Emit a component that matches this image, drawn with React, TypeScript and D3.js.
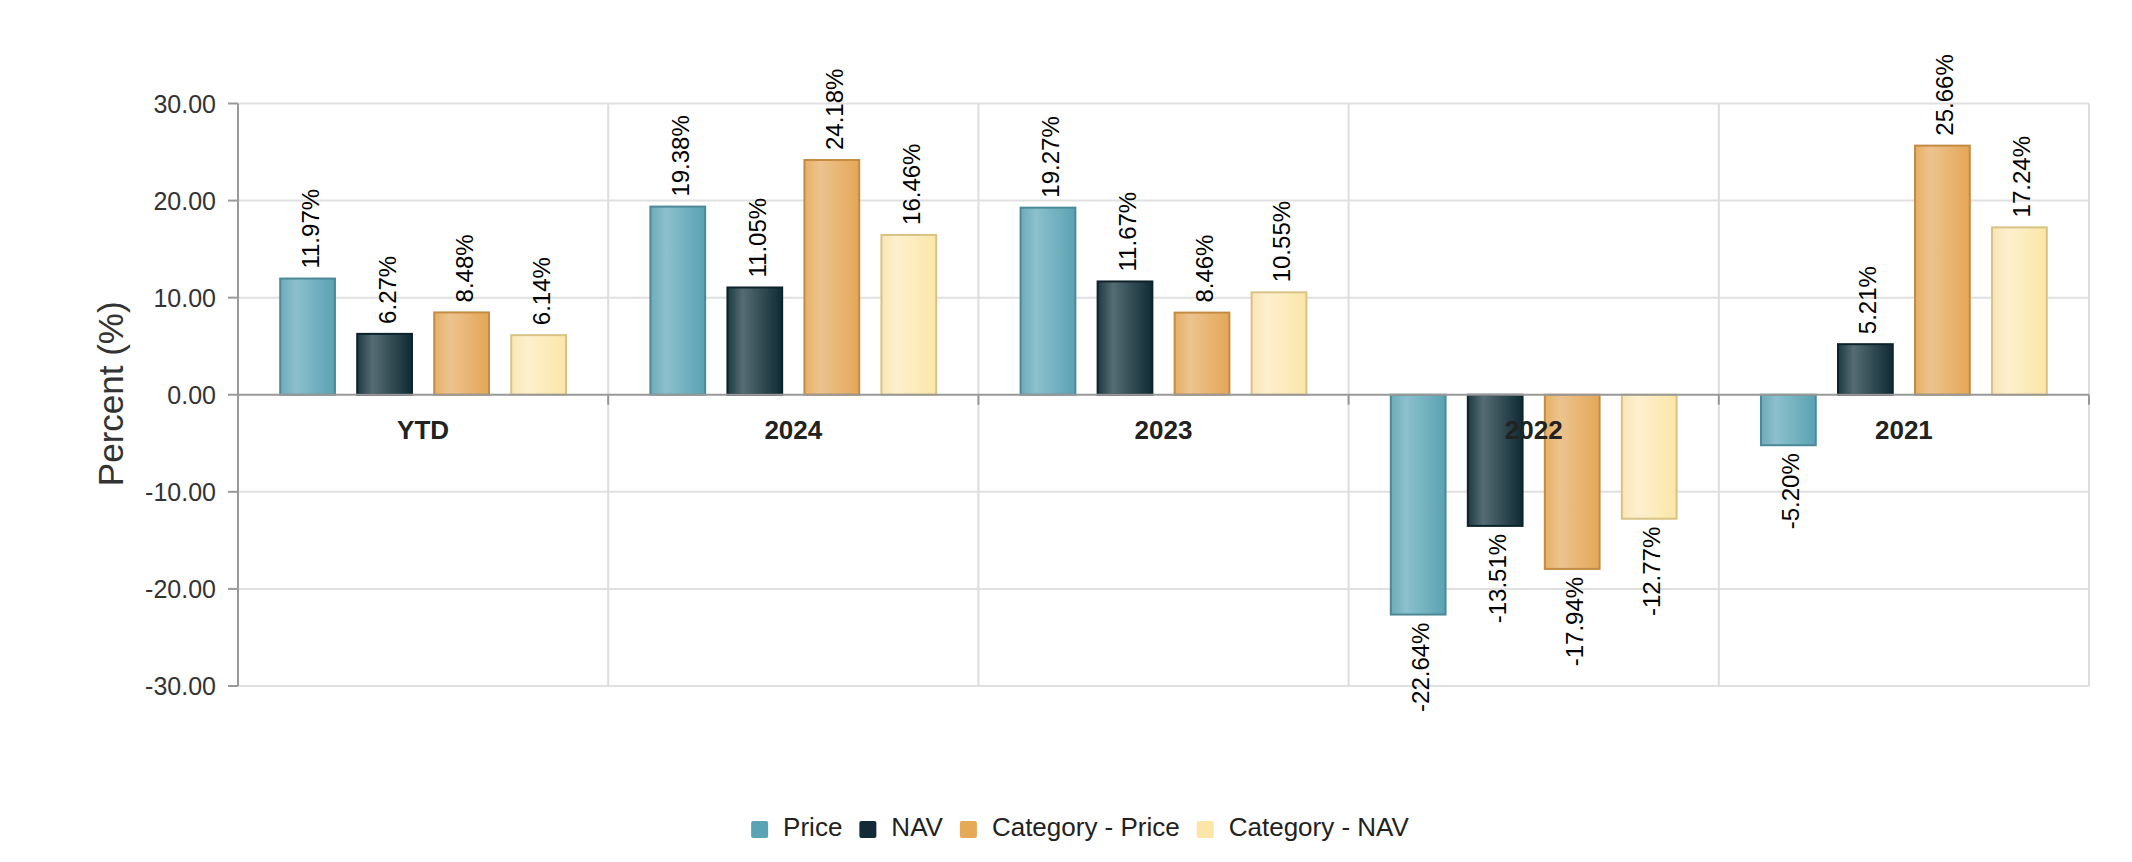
import React, { useEffect, useRef } from 'react';
import * as d3 from 'd3';

const categories = ['YTD', '2024', '2023', '2022', '2021'];
const seriesNames = ['Price', 'NAV', 'Category - Price', 'Category - NAV'];
const priceValues = [11.97, 19.38, 19.27, -22.64, -5.2];
const navValues = [6.27, 11.05, 11.67, -13.51, 5.21];
const catPriceValues = [8.48, 24.18, 8.46, -17.94, 25.66];
const catNavValues = [6.14, 16.46, 10.55, -12.77, 17.24];
const yTicks = [-30, -20, -10, 0, 10, 20, 30];

// gradient stops per series: left edge, highlight, right edge, border, legend swatch
const seriesColors = [
  { a: '#6eabba', b: '#8cc0cc', c: '#5aa2b3', stroke: '#4b8999', swatch: '#5aa3b4' },
  { a: '#1f3a42', b: '#556c73', c: '#0f2a33', stroke: '#0d232b', swatch: '#122b36' },
  { a: '#e6b066', b: '#ecc38e', c: '#e4a757', stroke: '#c38b43', swatch: '#e5a957' },
  { a: '#fae6b5', b: '#fdf0cf', c: '#fbe6a7', stroke: '#d8c385', swatch: '#fbe6a8' },
];

const FONT = '"Liberation Sans", Arial, Helvetica, sans-serif';

// plain hyphen for negatives, like the original
const fmt = (v: number) => v.toFixed(2);

const App: React.FC = () => {
  const svgRef = useRef<SVGSVGElement>(null);

  useEffect(() => {
    if (!svgRef.current) return;
    const svg = d3.select(svgRef.current);
    svg.selectAll('*').remove();

    const left = 238;
    const right = 2089;
    const top = 103.5;
    const bottom = 686;

    const allSeries = [priceValues, navValues, catPriceValues, catNavValues];

    const y = d3.scaleLinear().domain([-30, 30]).range([bottom, top]);
    const x0 = d3.scaleBand<string>().domain(categories).range([left, right]);
    const x1 = d3.scaleBand<string>()
      .domain(seriesNames)
      .range([0, x0.bandwidth()])
      .paddingInner(0.263)
      .paddingOuter(0.535);

    const defs = svg.append('defs');
    seriesColors.forEach((c, i) => {
      const g = defs.append('linearGradient')
        .attr('id', `grad${i}`)
        .attr('x1', '0').attr('x2', '1').attr('y1', '0').attr('y2', '0');
      g.append('stop').attr('offset', '0').attr('stop-color', c.a);
      g.append('stop').attr('offset', '0.28').attr('stop-color', c.b);
      g.append('stop').attr('offset', '1').attr('stop-color', c.c);
    });

    // horizontal grid
    svg.append('g')
      .selectAll('line')
      .data(yTicks.filter(t => t !== 0))
      .enter().append('line')
      .attr('x1', left).attr('x2', right)
      .attr('y1', d => y(d)).attr('y2', d => y(d))
      .attr('stroke', '#e0e0e0').attr('stroke-width', 2);

    // vertical category separators
    const seps = categories.map(c => (x0(c) as number) + x0.bandwidth());
    svg.append('g')
      .selectAll('line')
      .data(seps)
      .enter().append('line')
      .attr('x1', d => d).attr('x2', d => d)
      .attr('y1', top).attr('y2', bottom)
      .attr('stroke', '#dddddd').attr('stroke-width', 2);

    // y axis line + ticks
    svg.append('line')
      .attr('x1', left).attr('x2', left).attr('y1', top).attr('y2', bottom)
      .attr('stroke', '#999').attr('stroke-width', 2);
    const yt = svg.append('g');
    yt.selectAll('line')
      .data(yTicks)
      .enter().append('line')
      .attr('x1', left - 10).attr('x2', left)
      .attr('y1', d => y(d)).attr('y2', d => y(d))
      .attr('stroke', '#999').attr('stroke-width', 2);
    yt.selectAll('text')
      .data(yTicks)
      .enter().append('text')
      .attr('x', 216)
      .attr('y', d => y(d) + 9)
      .attr('text-anchor', 'end')
      .attr('font-family', FONT)
      .attr('font-size', 25)
      .attr('fill', '#333')
      .text(d => fmt(d));

    // y title
    svg.append('text')
      .attr('transform', `translate(123,${(top + bottom) / 2 - 1}) rotate(-90)`)
      .attr('text-anchor', 'middle')
      .attr('font-family', FONT)
      .attr('font-size', 35)
      .attr('fill', '#333')
      .text('Percent (%)');

    // bars
    allSeries.forEach((vals, si) => {
      const c = seriesColors[si];
      const g = svg.append('g');
      g.selectAll('rect')
        .data(vals)
        .enter().append('rect')
        .attr('x', (d, i) => (x0(categories[i]) as number) + (x1(seriesNames[si]) as number) + 1)
        .attr('width', x1.bandwidth() - 2)
        .attr('y', d => Math.min(y(d), y(0)))
        .attr('height', d => Math.abs(y(d) - y(0)))
        .attr('fill', `url(#grad${si})`)
        .attr('stroke', c.stroke)
        .attr('stroke-width', 2);
    });

    // zero line + x ticks
    svg.append('line')
      .attr('x1', left).attr('x2', right).attr('y1', y(0)).attr('y2', y(0))
      .attr('stroke', '#999').attr('stroke-width', 2);
    svg.append('g')
      .selectAll('line')
      .data(seps)
      .enter().append('line')
      .attr('x1', d => d).attr('x2', d => d)
      .attr('y1', y(0)).attr('y2', y(0) + 10)
      .attr('stroke', '#999').attr('stroke-width', 2);

    // data labels
    allSeries.forEach((vals, si) => {
      svg.append('g')
        .selectAll('text')
        .data(vals)
        .enter().append('text')
        .attr('transform', (d, i) => {
          const cx = (x0(categories[i]) as number) + (x1(seriesNames[si]) as number) + x1.bandwidth() / 2 + 11;
          const ty = d >= 0 ? y(d) - 10 : y(d) + 8;
          return `translate(${cx},${ty}) rotate(-90)`;
        })
        .attr('text-anchor', d => (d >= 0 ? 'start' : 'end'))
        .attr('font-family', FONT)
        .attr('font-size', 24)
        .attr('fill', '#000')
        .text(d => `${fmt(d)}%`);
    });

    // category labels
    svg.append('g')
      .selectAll('text')
      .data(categories)
      .enter().append('text')
      .attr('x', d => (x0(d) as number) + x0.bandwidth() / 2)
      .attr('y', 438.5)
      .attr('text-anchor', 'middle')
      .attr('font-family', FONT)
      .attr('font-size', 26)
      .attr('font-weight', 'bold')
      .attr('fill', '#222')
      .text(d => d);

    // legend
    const legend = svg.append('g');
    const items = seriesNames.map((name, i) => {
      const item = legend.append('g');
      item.append('rect')
        .attr('width', 17).attr('height', 17).attr('rx', 2)
        .attr('y', 821)
        .attr('fill', seriesColors[i].swatch);
      const t = item.append('text')
        .attr('x', 32)
        .attr('y', 836)
        .attr('font-family', FONT)
        .attr('font-size', 26)
        .attr('fill', '#222')
        .text(name);
      const w = (t.node() as SVGTextElement).getComputedTextLength();
      return { item, w: 32 + w };
    });
    const gap = 17;
    const total = d3.sum(items, d => d.w) + gap * (items.length - 1);
    let cursor = 1080 - total / 2;
    items.forEach(d => {
      d.item.attr('transform', `translate(${cursor},0)`);
      cursor += d.w + gap;
    });
  }, []);

  return (
    <svg
      ref={svgRef}
      width={2132}
      height={862}
      style={{ position: 'absolute', left: 0, top: 0, display: 'block', background: '#fff' }}
    />
  );
};

export default App;
